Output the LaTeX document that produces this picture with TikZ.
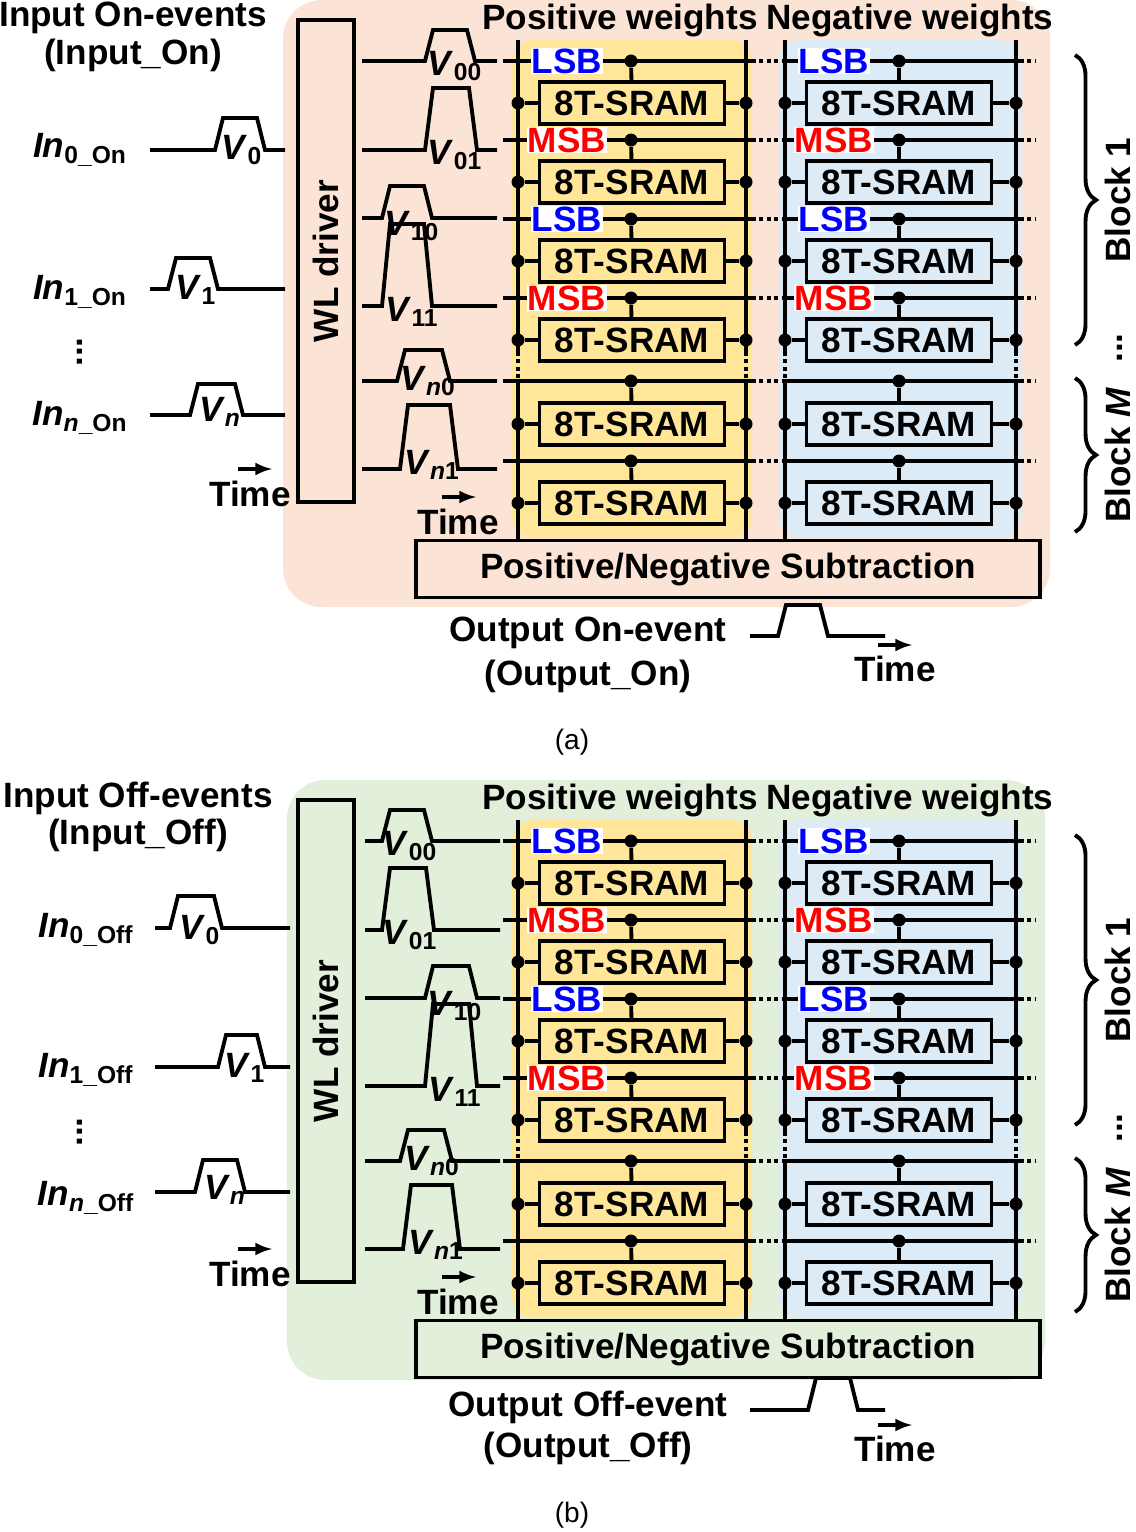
\documentclass[tikz,border=0pt]{standalone}
\usepackage{fontspec}
\setmainfont{Liberation Sans}
\usetikzlibrary{decorations.pathreplacing}
\definecolor{pinkbg}{HTML}{FBE4D6}
\definecolor{greenbg}{HTML}{E2EFDA}
\definecolor{yel}{HTML}{FFE699}
\definecolor{blu}{HTML}{DDEBF7}
\tikzset{
 w/.style={line width=2.2pt},
 sram/.style={draw,line width=2.2pt,minimum width=3.7cm,minimum height=0.84cm,inner sep=0pt,font=\fontsize{20}{20}\bfseries\selectfont},
 dot/.style={circle,fill,inner sep=0pt,minimum size=0.26cm},
 lbl/.style={font=\fontsize{20}{22}\bfseries\selectfont,inner sep=0pt},
 bit/.style={fill=white,inner sep=0.5pt,font=\fontsize{20}{20}\bfseries\selectfont},
}
\newcommand\pulse[6]{\draw[w] (#1,#3)--(#4,#3)--(#4+8,#6)--(#5-8,#6)--(#5,#3)--(#2,#3);}
\newcommand\arraypart[2]{%
 \fill[rounded corners=12pt,yel] (512,40) rectangle (752,538);
 \fill[rounded corners=12pt,blu] (779,40) rectangle (1021,538);
 \foreach \x in {518,746,785,1016}{
   \draw[w] (\x,40)--(\x,352); \draw[w,dotted] (\x,352)--(\x,381); \draw[w] (\x,381)--(\x,540);}
 \foreach \y/\n in {61/a,140/b,219/c,298/d,381/e,461/f}{
   \draw[w] (503,\y)--(752,\y); \draw[w,dotted] (752,\y)--(785,\y);
   \draw[w] (785,\y)--(1020,\y); \draw[w,dotted] (1020,\y)--(1036,\y);
   \node[dot] (pd\n#2) at (631,\y) {}; \node[dot] (nd\n#2) at (899,\y) {};}
 \foreach \y/\n in {103/a,182/b,261/c,340/d,424/e,503/f}{
   \node[sram,fill=yel] (ps\n#2) at (632,\y) {8T-SRAM};
   \node[sram,fill=blu] (ns\n#2) at (899,\y) {8T-SRAM};
   \draw[w] (pd\n#2)--(ps\n#2); \draw[w] (nd\n#2)--(ns\n#2);
   \node[dot] (pl\n#2) at (518,\y) {}; \node[dot] (pr\n#2) at (746,\y) {};
   \node[dot] (nl\n#2) at (785,\y) {}; \node[dot] (nr\n#2) at (1016,\y) {};
   \draw[w] (pl\n#2)--(ps\n#2.west) (ps\n#2.east)--(pr\n#2);
   \draw[w] (nl\n#2)--(ns\n#2.west) (ns\n#2.east)--(nr\n#2);}
 \foreach \y/\t/\c in {61/LSB/blue,140/MSB/red,219/LSB/blue,298/MSB/red}{
   \node[bit,text=\c] at (567,\y) {\t}; \node[bit,text=\c] at (834,\y) {\t};}
 \node[draw,w,fill=#1,minimum width=12.48cm,minimum height=1.14cm,lbl] (sub#2) at (728,569) {Positive/Negative Subtraction};
 \node[draw,w,minimum width=1.12cm,minimum height=9.64cm] (wl#2) at (326,261) {};
 \node[lbl,rotate=90] at (wl#2) {WL driver};
 \node[lbl] at (620,20) {Positive weights};
 \node[lbl] at (910,20) {Negative weights};
 \draw[w,decorate,decoration={brace,amplitude=12pt}] (1075,55)--(1075,345);
 \draw[w,decorate,decoration={brace,amplitude=12pt}] (1075,378)--(1075,532);
 \node[lbl,rotate=90] at (1118,200) {Block 1};
 \node[lbl,rotate=90] at (1118,455) {Block \textit{M}};
 \node[lbl,rotate=90] at (1120,348) {...};
 \node[lbl,rotate=90] at (80,352) {...};
 \node[lbl] (t1#2) at (250,494) {Time}; \draw[w,-latex] (238,469)--(272,469);
 \node[lbl] (t2#2) at (458,522) {Time}; \draw[w,-latex] (442,497)--(476,497);
 \node[lbl] (t3#2) at (895,669) {Time}; \draw[w,-latex] (878,645)--(912,645);
}
\begin{document}
\begin{tikzpicture}[x=0.02cm,y=-0.02cm]
\useasboundingbox (0,0) rectangle (1136,1532);
% panel a
\fill[pinkbg,rounded corners=22pt] (283,0) rectangle (1050,607);
\arraypart{pinkbg}{A}
\node[lbl] at (133,18) {Input On-events};
\node[lbl] at (133,55) {(Input\_On)};
\node[lbl] at (80,150) {\textit{In}\textsubscript{0\_On}};
\node[lbl] at (80,292) {\textit{In}\textsubscript{1\_On}};
\node[lbl] at (80,418) {\textit{In}\textsubscript{\textit{n}\_On}};
\pulse{150}{285}{150}{215}{265}{118}
\pulse{150}{285}{289}{168}{218}{258}
\pulse{150}{285}{415}{190}{243}{384}
\node[lbl] at (242,150) {\textit{V}\textsubscript{0}};
\node[lbl] at (196,290) {\textit{V}\textsubscript{1}};
\node[lbl] at (220,412) {\textit{V}\textsubscript{\textit{n}}};
\pulse{362}{497}{61}{425}{475}{30}
\pulse{362}{497}{150}{425}{477}{88}
\pulse{362}{497}{218}{382}{432}{186}
\pulse{362}{497}{306}{382}{432}{224}
\pulse{362}{497}{381}{397}{450}{350}
\pulse{362}{497}{469}{400}{458}{405}
\node[lbl] at (455,66) {\textit{V}\textsubscript{00}};
\node[lbl] at (455,155) {\textit{V}\textsubscript{01}};
\node[lbl] at (412,226) {\textit{V}\textsubscript{10}};
\node[lbl] at (412,312) {\textit{V}\textsubscript{11}};
\node[lbl] at (428,381) {\textit{V}\textsubscript{\textit{n}0}};
\node[lbl] at (432,465) {\textit{V}\textsubscript{\textit{n}1}};
\node[lbl] at (588,633) {Output On-event};
\node[lbl] at (588,676) {(Output\_On)};
\pulse{750}{885}{636}{778}{828}{605}
\node[font=\fontsize{16}{16}\selectfont] at (572,742) {(a)};
% panel b
\begin{scope}[shift={(0,780)}]
\fill[greenbg,rounded corners=22pt] (287,0) rectangle (1045,600);
\arraypart{greenbg}{B}
\node[lbl] at (138,18) {Input Off-events};
\node[lbl] at (138,55) {(Input\_Off)};
\node[lbl] at (86,150) {\textit{In}\textsubscript{0\_Off}};
\node[lbl] at (86,290) {\textit{In}\textsubscript{1\_Off}};
\node[lbl] at (86,418) {\textit{In}\textsubscript{\textit{n}\_Off}};
\pulse{155}{290}{148}{170}{222}{116}
\pulse{155}{290}{287}{218}{265}{255}
\pulse{155}{290}{412}{195}{245}{380}
\node[lbl] at (200,150) {\textit{V}\textsubscript{0}};
\node[lbl] at (245,288) {\textit{V}\textsubscript{1}};
\node[lbl] at (225,410) {\textit{V}\textsubscript{\textit{n}}};
\pulse{365}{500}{61}{382}{432}{30}
\pulse{365}{500}{150}{382}{434}{88}
\pulse{365}{500}{218}{425}{477}{186}
\pulse{365}{500}{306}{425}{477}{224}
\pulse{365}{500}{381}{400}{452}{350}
\pulse{365}{500}{469}{403}{460}{405}
\node[lbl] at (410,66) {\textit{V}\textsubscript{00}};
\node[lbl] at (410,155) {\textit{V}\textsubscript{01}};
\node[lbl] at (455,226) {\textit{V}\textsubscript{10}};
\node[lbl] at (455,312) {\textit{V}\textsubscript{11}};
\node[lbl] at (432,381) {\textit{V}\textsubscript{\textit{n}0}};
\node[lbl] at (436,465) {\textit{V}\textsubscript{\textit{n}1}};
\node[lbl] at (588,627) {Output Off-event};
\node[lbl] at (588,668) {(Output\_Off)};
\pulse{750}{885}{630}{808}{858}{598}
\node[font=\fontsize{16}{16}\selectfont] at (572,735) {(b)};
\end{scope}
\end{tikzpicture}
\end{document}
